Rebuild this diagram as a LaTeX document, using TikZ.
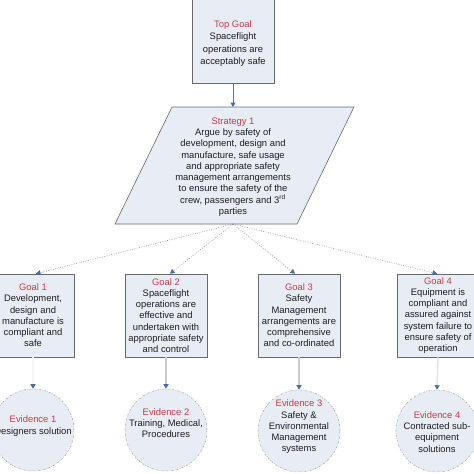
\documentclass[tikz,border=0pt]{standalone}
\usepackage{fontspec}
\setmainfont{Liberation Sans}
\usetikzlibrary{arrows.meta,calc}
\definecolor{boxfill}{RGB}{231,236,245}
\definecolor{boxline}{RGB}{105,105,105}
\definecolor{lbl}{RGB}{196,62,72}
\definecolor{txt}{RGB}{30,30,30}
\definecolor{tip}{RGB}{74,108,170}
\begin{document}
\begin{tikzpicture}[x=1pt,y=-1pt,
  goalbox/.style={draw=boxline,fill=boxfill,line width=0.6pt,minimum width=82pt,minimum height=83pt,inner sep=0pt,align=center,text=txt,font=\fontsize{9.4}{11.25}\selectfont},
  evcircle/.style={circle,draw=gray!70,fill=boxfill,line width=0.55pt,dash pattern=on 1.8pt off 1.4pt on 0.5pt off 1.4pt,minimum size=82pt,inner sep=0pt},
  evtext/.style={align=center,text=txt,font=\fontsize{9.4}{11.25}\selectfont,inner sep=0pt},
  tiphead/.style={-{Triangle[width=5pt,length=4.5pt,fill=tip,color=tip]}},
  dotlink/.style={tiphead,draw=gray!85,line width=0.6pt,dash pattern=on 0.8pt off 1.6pt},
  sollink/.style={tiphead,draw=gray!40,line width=1.8pt},
]
\useasboundingbox (0,0) rectangle (474,474);
\clip (0,0) rectangle (474,474);

% top goal
\node[goalbox,minimum height=93pt] (top) at (233,36.5) {};
\node[evtext,font=\fontsize{9.4}{12.3}\selectfont] (toptxt) at (233,43.5)
  {\textcolor{lbl}{Top Goal}\\Spaceflight\\operations are\\acceptably safe};

% strategy
\draw[draw=boxline,fill=boxfill,line width=0.6pt] (172,107) -- (354,107) -- (297,224) -- (115,224) -- cycle;
\coordinate (stratTop) at (233,107);
\coordinate (stratBot) at (233,224);
\node[evtext] (strat) at (233,167)
  {\textcolor{lbl}{Strategy 1}\\Argue by safety of\\development, design and\\manufacture, safe usage\\and appropriate safety\\management arrangements\\to ensure the safety of the\\crew, passengers and 3\textsuperscript{rd}\\parties};

% goals
\node[goalbox] (g1) at (33,315.5) {\textcolor{lbl}{Goal 1}\\Development,\\design and\\manufacture is\\compliant and\\safe};
\node[goalbox] (g2) at (166,315.5) {\textcolor{lbl}{Goal 2}\\Spaceflight\\operations are\\effective and\\undertaken with\\appropriate safety\\and control};
\node[goalbox] (g3) at (299,315.5) {\textcolor{lbl}{Goal 3}\\Safety\\Management\\arrangements are\\comprehensive\\and co-ordinated};
\node[goalbox] (g4) at (438,315.5) {\textcolor{lbl}{Goal 4}\\Equipment is\\compliant and\\assured against\\system failure to\\ensure safety of\\operation};

% evidence
\node[evcircle] (e1) at (33,430) {};
\node[evcircle] (e2) at (166,430) {};
\node[evcircle] (e3) at (299,431) {};
\node[evcircle] (e4) at (437,431) {};
\node[evtext] (e1t) at (33,426) {\textcolor{lbl}{Evidence 1}\\Designers solution};
\node[evtext] (e2t) at (166,423) {\textcolor{lbl}{Evidence 2}\\Training, Medical,\\Procedures};
\node[evtext] (e3t) at (299,427) {\textcolor{lbl}{Evidence 3}\\Safety \&\\Environmental\\Management\\systems};
\node[evtext] (e4t) at (437,432) {\textcolor{lbl}{Evidence 4}\\Contracted sub-\\equipment\\solutions};

% connectors
\draw[tiphead,draw=tip!55!gray,line width=1pt] (top.south) -- (stratTop);
\draw[dotlink] (stratBot) -- ($(g1.north)+(3,0)$);
\draw[dotlink] (stratBot) -- ($(g2.north)+(4,0)$);
\draw[dotlink] (stratBot) -- ($(g3.north)+(-4,0)$);
\draw[dotlink] (stratBot) -- ($(g4.north)+(-1,0)$);
\draw[sollink,draw=gray!8,line width=1.5pt] (g1.south) -- (e1.north);
\draw[sollink] (g2.south) -- (e2.north);
\draw[sollink] (g3.south) -- (e3.north);
\draw[sollink,draw=gray!22,line width=1.5pt] (g4.south) -- (e4.north);
\end{tikzpicture}
\end{document}
